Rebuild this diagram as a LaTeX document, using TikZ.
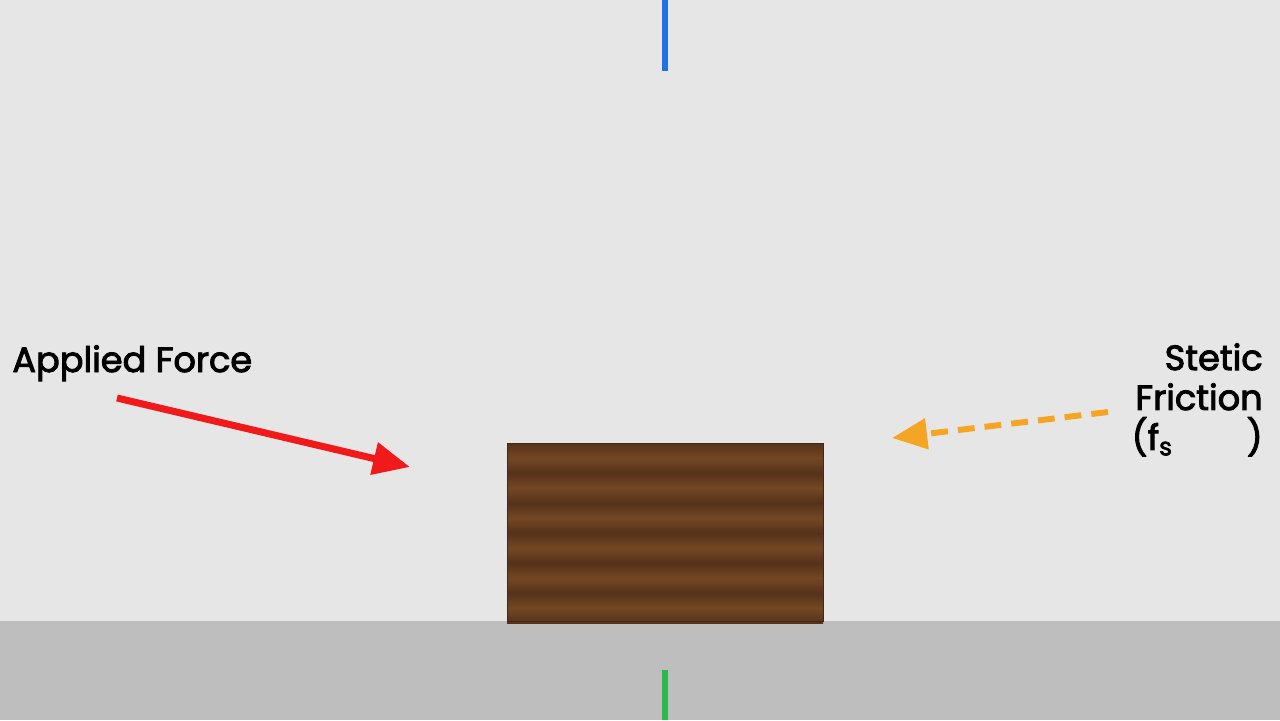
\documentclass[tikz,border=0pt]{standalone}
\usepackage{fontspec}
\setmainfont{Poppins}
\newfontfamily\labelfont{Poppins}[FakeBold=2.6]
\usepackage{tikz}
\usetikzlibrary{arrows.meta, positioning}
\definecolor{wallgray}{HTML}{E6E6E6}
\definecolor{floorgray}{HTML}{BEBEBE}
\definecolor{wooddark}{HTML}{55321A}
\definecolor{woodlight}{HTML}{744724}
\definecolor{forcered}{HTML}{F01A1A}
\definecolor{frictionorange}{HTML}{F5A524}
\definecolor{axisblue}{HTML}{1F72E6}
\definecolor{axisgreen}{HTML}{2DB84C}
\tikzset{
    x=0.02cm, y=-0.02cm, % one unit is one pixel of the reference
    label text/.style={font=\labelfont\fontsize{20}{22.7}\selectfont, inner sep=0pt}, % the black labels
    force arrow/.style={-{Triangle[length=21pt, width=18pt]}, line width=4pt, draw=forcered}, % the red push
    friction arrow/.style={-{Triangle[length=20pt, width=17pt]}, line width=3.4pt, draw=frictionorange, dash pattern=on 9.6pt off 5.7pt}, % the orange friction
    axis mark/.style={line width=3pt}, % the short vertical marks
}
\begin{document}
\begin{tikzpicture}

    \useasboundingbox (0,0) rectangle (1280,720);

    % wall and floor
    \fill[wallgray] (0,0) rectangle (1280,720);
    \fill[floorgray] (0,621) rectangle (1280,720);

    % the wooden block
    \foreach \y in {443,473,...,593} {
        \shade[top color=wooddark, bottom color=woodlight]
            (507,\y) rectangle (823,\y+15);
        \shade[top color=woodlight, bottom color=wooddark]
            (507,\y+15) rectangle (823,\y+30);
    }
    \node[draw=wooddark!80!black, line width=0.5pt, minimum width=316*0.02cm, minimum height=178*0.02cm, inner sep=0pt] (block) at (665,532) {};

    % vertical marks
    \coordinate (top) at (665,0);
    \coordinate (topend) at (665,71);
    \draw[axis mark, axisblue] (top) -- (topend);
    \coordinate (bottom) at (665,670);
    \coordinate (bottomend) at (665,720);
    \draw[axis mark, axisgreen] (bottom) -- (bottomend);

    % labels
    \node[label text, anchor=base west] (applied) at (12,372) {Applied Force};
    \node[label text, anchor=north east, align=right] (friction) at (1263,343) {Stetic\\Friction\\(f\textsubscript{s}\hspace{2.1em})};

    % forces
    \coordinate (pushstart) at (117,398);
    \coordinate (pushend) at (410,467);
    \draw[force arrow] (pushstart) -- (pushend);
    \coordinate (fricstart) at (1108,412);
    \coordinate (fricend) at (892,438);
    \draw[friction arrow] (fricstart) -- (fricend);

\end{tikzpicture}
\end{document}
